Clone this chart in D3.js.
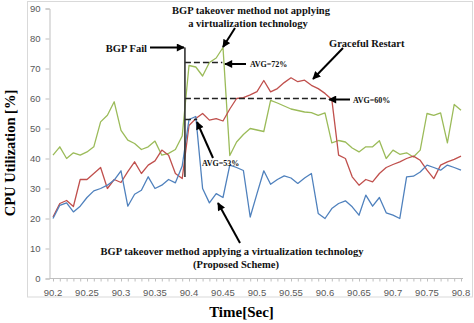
<!DOCTYPE html>
<html><head><meta charset="utf-8">
<script src="https://cdn.jsdelivr.net/npm/d3@7/dist/d3.min.js"></script>
<style>body{margin:0;background:#fff}svg{display:block}</style>
</head><body>
<svg id="c" width="474" height="323"></svg>
<script>
const times = [90.20,90.21,90.22,90.23,90.24,90.25,90.26,90.27,90.28,90.29,
  90.30,90.31,90.32,90.33,90.34,90.35,90.36,90.37,90.38,90.39,
  90.40,90.41,90.42,90.43,90.44,90.45,90.46,90.47,90.48,90.49,
  90.50,90.51,90.52,90.53,90.54,90.55,90.56,90.57,90.58,90.59,
  90.60,90.61,90.62,90.63,90.64,90.65,90.66,90.67,90.68,90.69,
  90.70,90.71,90.72,90.73,90.74,90.75,90.76,90.77,90.78,90.79,90.80];
const greenNoVirt = [41.1,43.9,40,41.9,41.1,42.2,43.9,52.2,54.4,58.9,
  49.4,46.1,45,43,43.9,45.8,41.1,41.7,43,47.5,
  71,70.5,67.5,72,73.5,77,41,45.5,48,50,
  49.5,49,59.4,58.5,57.5,56.5,56,55.5,55.3,54.4,
  55.2,45.2,46,45.5,43.5,42.2,43.9,43.9,45.9,40,
  42.8,41.4,41.9,40.5,42.8,55,54.4,55.2,45.2,58,56.1];
const redGraceful = [20.5,25,26,24,33,33,35,37,30,33,
  32,35.6,38.9,35,37.8,39.2,42.8,41.1,35,33.3,
  51,53.3,55,52.8,53.3,52.5,56.5,60,60.3,61.2,
  62.3,66,62.2,63.3,65.3,66.9,65.6,66.1,64.4,63.3,
  61.7,59.7,41.1,40,33.9,31.1,33,32.2,35,37,
  38,38.9,40,40.8,39.4,36.1,33.3,37.8,38.9,39.7,40.8];
const blueVirt = [20,24.4,25.2,22.2,24.1,27,29.2,30,31.1,32.8,
  35.9,24.1,28.1,29.4,33.9,30,31.1,33,31.9,37.5,
  53,54,30,25.2,28.3,27,37.8,37,36,20.5,
  28.3,35.9,31.4,33,34.2,33.5,31.7,33.5,35,21.7,
  20,23.3,25,25.9,23.9,21.1,27.8,24.1,27,21.9,
  21.1,20,33.9,34.1,35.5,37.8,37,36.1,37.8,37,36.1];
const xTickLabels = ["90.2","90.25","90.3","90.35","90.4","90.45","90.5","90.55","90.6","90.65","90.7","90.75","90.8"];
const yTicks = [0,10,20,30,40,50,60,70,80,90];
const failTime = 90.394;
const avgLines = [
  {label:"AVG=72%", value:72, t0:90.394, t1:90.449},
  {label:"AVG=60%", value:60, t0:90.394, t1:90.604},
  {label:"AVG=53%", value:53, t0:90.394, t1:90.412}
];

const svg = d3.select("#c");
const x = d3.scaleLinear().domain([90.2, 90.8]).range([53, 461]);
const y = d3.scaleLinear().domain([0, 90]).range([278.5, 8.5]);

// chart frame
svg.append("rect").attr("x",27.5).attr("y",1.5).attr("width",445).attr("height",295.5)
  .attr("fill","#fff").attr("stroke","#d9d9d9");

const tickFont = "'Liberation Sans', Arial, sans-serif";
// y axis
const yAxis = svg.append("g").attr("transform","translate(49.5,0)")
  .call(d3.axisLeft(y).tickValues(yTicks).tickSize(4).tickPadding(5));
yAxis.select(".domain").attr("stroke","#bfbfbf");
yAxis.selectAll(".tick line").attr("stroke","#bfbfbf");
yAxis.selectAll(".tick text").attr("fill","#595959").style("font-family",tickFont).style("font-size","9.5px");

// x axis
const xAxisG = svg.append("g").attr("transform","translate(0,278.5)");
xAxisG.append("line").attr("x1",49.5).attr("x2",463).attr("stroke","#bfbfbf");
const xAxis = xAxisG.append("g")
  .call(d3.axisBottom(x).tickValues(times).tickSize(3).tickFormat(""));
xAxis.select(".domain").remove();
xAxis.selectAll(".tick line").attr("stroke","#bfbfbf");
xAxisG.selectAll("text.xl").data(xTickLabels).enter().append("text")
  .attr("x", d => x(+d)).attr("y", 17).attr("text-anchor","middle")
  .attr("fill","#595959").style("font-family",tickFont).style("font-size","9.5px").text(d => d);

// lines
const line = d3.line().x((d,i) => x(times[i])).y(d => y(d));
const series = [
  {v: greenNoVirt, c:"#9bbb59"},
  {v: redGraceful, c:"#c0504d"},
  {v: blueVirt, c:"#4f81bd"}
];
svg.selectAll("path.s").data(series).enter().append("path")
  .attr("class","s").attr("d", d => line(d.v)).attr("fill","none")
  .attr("stroke", d => d.c).attr("stroke-width",1.3).attr("stroke-linejoin","round");

// avg dashed lines
svg.selectAll("line.avg").data(avgLines).enter().append("line")
  .attr("x1", d => x(d.t0)).attr("x2", d => x(d.t1))
  .attr("y1", d => y(d.value)).attr("y2", d => y(d.value))
  .attr("stroke","#222").attr("stroke-width",1.3).attr("stroke-dasharray","6,3");

// BGP fail vertical line
svg.append("line").attr("x1",x(failTime)).attr("x2",x(failTime))
  .attr("y1",y(77)).attr("y2",y(33.8)).attr("stroke","#333").attr("stroke-width",1.6);

// arrows
const defs = svg.append("defs");
defs.append("marker").attr("id","ah").attr("viewBox","0 0 10 10").attr("refX",9).attr("refY",5)
  .attr("markerWidth",9).attr("markerHeight",8).attr("markerUnits","userSpaceOnUse")
  .attr("orient","auto").append("path").attr("d","M0,0L10,5L0,10z").attr("fill","#000");
const arrows = [
  [150,47.5,184,47.5],
  [235,28,223,47],
  [246,64,225,64],
  [343,48,313,79],
  [350,99.5,329,99.5],
  [213,158,197,122],
  [240,243,218,203]
];
svg.selectAll("line.arr").data(arrows).enter().append("line")
  .attr("x1",d=>d[0]).attr("y1",d=>d[1]).attr("x2",d=>d[2]).attr("y2",d=>d[3])
  .attr("stroke","#000").attr("stroke-width",2).attr("marker-end","url(#ah)");

// annotation texts
const serif = "'Liberation Serif','Times New Roman',serif";
const notes = [
  {t:"BGP Fail", x:147, y:51.5, a:"end", s:10.5},
  {t:"BGP takeover method not applying", x:251, y:13.5, a:"middle", s:10.5},
  {t:"a virtualization technology", x:248, y:26.5, a:"middle", s:10.5},
  {t:"AVG=72%", x:250, y:67, a:"start", s:8},
  {t:"Graceful Restart", x:329, y:47, a:"start", s:10.5},
  {t:"AVG=60%", x:353, y:102.5, a:"start", s:8},
  {t:"AVG=53%", x:202, y:166, a:"start", s:8},
  {t:"BGP takeover method applying a virtualization technology", x:232, y:254.5, a:"middle", s:10.5},
  {t:"(Proposed Scheme)", x:236, y:268, a:"middle", s:10.5}
];
svg.selectAll("text.note").data(notes).enter().append("text")
  .attr("x",d=>d.x).attr("y",d=>d.y).attr("text-anchor",d=>d.a)
  .style("font-family",serif).style("font-weight","bold").style("font-size",d=>d.s+"px")
  .attr("fill","#111").text(d=>d.t);

// axis titles
svg.append("text").attr("x",241.5).attr("y",317).attr("text-anchor","middle")
  .style("font-family",serif).style("font-weight","bold").style("font-size","15px").attr("fill","#000")
  .text("Time[Sec]");
svg.append("text").attr("transform","translate(15,153) rotate(-90)").attr("text-anchor","middle")
  .style("font-family",serif).style("font-weight","bold").style("font-size","14.5px").attr("fill","#000")
  .text("CPU Utilization [%]");
</script>
</body></html>
